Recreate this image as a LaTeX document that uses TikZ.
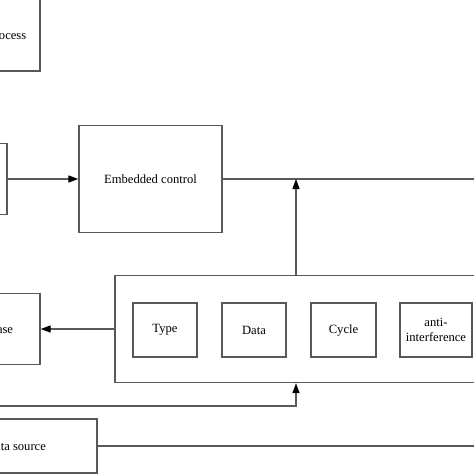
\documentclass[tikz,border=0pt]{standalone}
\usepackage{fontspec}
\setmainfont{Liberation Serif}
\usetikzlibrary{arrows.meta}
\begin{document}
\begin{tikzpicture}[x=1pt,y=-1pt,
  box/.style={draw=black!65, line width=1.3pt, minimum width=#1, align=center, inner sep=0pt, text=black,
    font=\fontsize{12.6}{15.5}\selectfont},
  conn/.style={draw=black!65, line width=1.3pt},
  arr/.style={conn, -{Triangle[length=10pt,width=7pt,color=black]}}]
\useasboundingbox (0,0) rectangle (474,474);
\fill[white] (0,0) rectangle (474,474);
\clip (0,0) rectangle (474,474);
% boxes
\node[box=66pt, minimum height=72pt] (proc) at (7,35) {Process};
\node[box=80pt, minimum height=71pt] (left) at (-33,179) {};
\node[box=143pt, minimum height=107pt] (emb) at (150.5,179) {Embedded control};
\node[box=100pt, minimum height=71pt] (db) at (-10,329) {Database};
\node[box=162pt, minimum height=54pt] (ds) at (16,446) {Data source};
\node[box=395pt, minimum height=107pt] (outer) at (312.5,329) {};
\node[box=64pt, minimum height=54pt] (type) at (165,330) {Type};
\node[box=64pt, minimum height=54pt] (data) at (254,330) {Data};
\node[box=65pt, minimum height=54pt] (cycle) at (343.5,330) {Cycle};
\node[box=72pt, minimum height=54pt] (anti) at (436,330) {anti-\\interference};
% coordinates
\coordinate (re) at (490,179);
\coordinate (jt) at (296,179);
\coordinate (bl) at (-10,406);
\coordinate (bc) at (296,406);
% connectors
\draw[arr] (left.east) -- (emb.west);
\draw[conn] (emb.east) -- (re);
\draw[arr] (outer.north -| jt) -- (jt);
\draw[arr] (outer.west) -- (db.east);
\draw[arr] (bl) -- (bc) -- (outer.south -| bc);
\draw[conn] (ds.east) -- (ds.east -| re);
\end{tikzpicture}
\end{document}
